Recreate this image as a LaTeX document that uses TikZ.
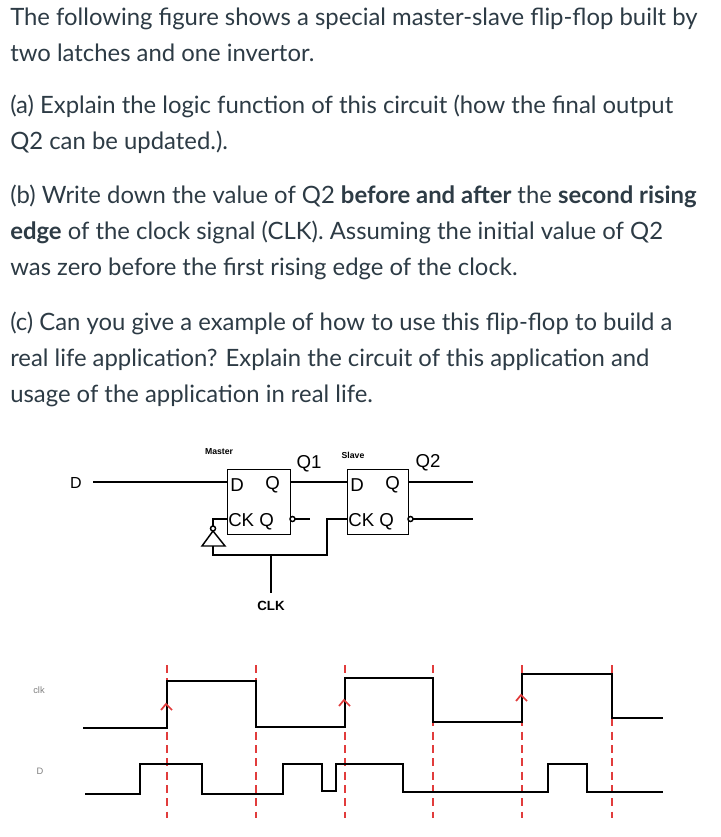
\documentclass[tikz,border=0pt]{standalone}
\usepackage{fontspec}
\setmainfont{Lato}
\setsansfont{Liberation Sans}
\definecolor{txt}{RGB}{45,59,69}
\definecolor{rd}{RGB}{225,60,60}
\begin{document}
\begin{tikzpicture}[x=0.75pt,y=-0.75pt,
  para/.style={anchor=base west,inner sep=0,text=txt,font=\fontsize{17.9pt}{27pt}\selectfont},
  wire/.style={line width=1.1pt},
  sig/.style={line width=1.6pt,line join=miter},
  edge/.style={rd,line width=1.3pt,dashed,dash pattern=on 6pt off 4pt},
  lab/.style={font=\sffamily\fontsize{14pt}{14pt}\selectfont,inner sep=0},
  small/.style={font=\sffamily\bfseries\fontsize{6.5pt}{7pt}\selectfont,inner sep=0}]
\useasboundingbox (0,0) rectangle (720,837);
\node[para] (l1) at (10,26) {The following figure shows a special master-slave flip-flop built by};
\node[para] (l2) at (10,62) {two latches and one invertor.};
\node[para] (l3) at (10,114) {(a) Explain the logic function of this circuit (how the final output};
\node[para] (l4) at (10,150) {Q2 can be updated.).};
\node[para] (l5) at (10,204) {(b) Write down the value of Q2 \textbf{before and after} the \textbf{second rising}};
\node[para] (l6) at (10,240) {\textbf{edge} of the clock signal (CLK). Assuming the initial value of Q2};
\node[para] (l7) at (10,276) {was zero before the first rising edge of the clock.};
\node[para] (l8) at (10,330) {(c) Can you give a example of how to use this flip-flop to build a};
\node[para] (l9) at (10,366) {real life application? Explain the circuit of this application and};
\node[para] (l10) at (10,402) {usage of the application in real life.};
% circuit
\node[draw,wire,minimum width=47.25pt,minimum height=48.75pt,anchor=north west,inner sep=0] (m) at (227,469) {};
\node[draw,wire,minimum width=45.75pt,minimum height=48.75pt,anchor=north west,inner sep=0] (s) at (347,469) {};
\foreach \b/\x in {m/227,s/347}{
  \node[lab,anchor=west] (\b d) at (\x+3,485) {D};
  \node[lab,anchor=west] (\b q) at (\x+38,485) {Q};
  \node[lab,anchor=west] (\b ck) at (\x+1,522) {CK Q};
}
\node[small] (ml) at (219,452) {Master};
\node[small] (sl) at (353,455) {Slave};
\node[lab,font=\sffamily\fontsize{12pt}{12pt}\selectfont] (dl) at (76,483) {D};
\node[lab] (q1) at (309,464) {Q1};
\node[lab] (q2) at (428,463) {Q2};
\node[lab,font=\sffamily\bfseries\fontsize{10pt}{10pt}\selectfont] (clk) at (271,606) {CLK};
\coordinate (dend) at (93,482);
\coordinate (q2e) at (473,482);
\coordinate (mqbe) at (310,519);
\coordinate (sqbe) at (473,519);
\coordinate (j) at (271,555);
\coordinate (ce) at (271,593);
\draw[wire] (dend) -- (227,482);
\draw[wire] (290,482) -- (347,482);
\draw[wire] (408,482) -- (q2e);
\draw[wire] (292.5,519) circle (2.5);
\draw[wire] (410.5,519) circle (2.5);
\draw[wire] (295,519) -- (mqbe);
\draw[wire] (413,519) -- (sqbe);
\draw[wire] (227,519) -- (213,519) -- (213,526);
\draw[wire] (213,528.5) circle (2.5);
\draw[wire] (213,531) -- (202,546) -- (225,546) -- cycle;
\draw[wire] (213,546) -- (213,555) -- (327,555) -- (327,519) -- (347,519);
\draw[line width=1.8pt] (j) -- (ce);
% waveforms
\node[font=\sffamily\fontsize{7pt}{8pt}\selectfont,text=gray] (ck) at (39,690) {clk};
\node[font=\sffamily\fontsize{7pt}{8pt}\selectfont,text=gray] (dd) at (40,771) {D};
\foreach \x in {167,256,345,433,522,612}{\draw[edge] (\x,665) -- (\x,818);}
\draw[sig] (83,728) -- (167,728) -- (167,681) -- (256,681) -- (256,727) -- (345,727) -- (345,678) -- (433,678) -- (433,722) -- (522,722) -- (522,674) -- (612,674) -- (612,718) -- (663,718);
\draw[sig] (85,794) -- (140,794) -- (140,764) -- (202,764) -- (202,794) -- (283,794) -- (283,764) -- (322,764) -- (322,791) -- (336,791) -- (336,764) -- (403,764) -- (403,792) -- (548,792) -- (548,764) -- (587,764) -- (587,792) -- (663,792);
\foreach \x/\y in {167/704,345/700,522/695}{\draw[rd,line width=1.3pt] (\x-6,\y+6) -- (\x-1,\y) -- (\x+5,\y+6);}
\end{tikzpicture}
\end{document}
